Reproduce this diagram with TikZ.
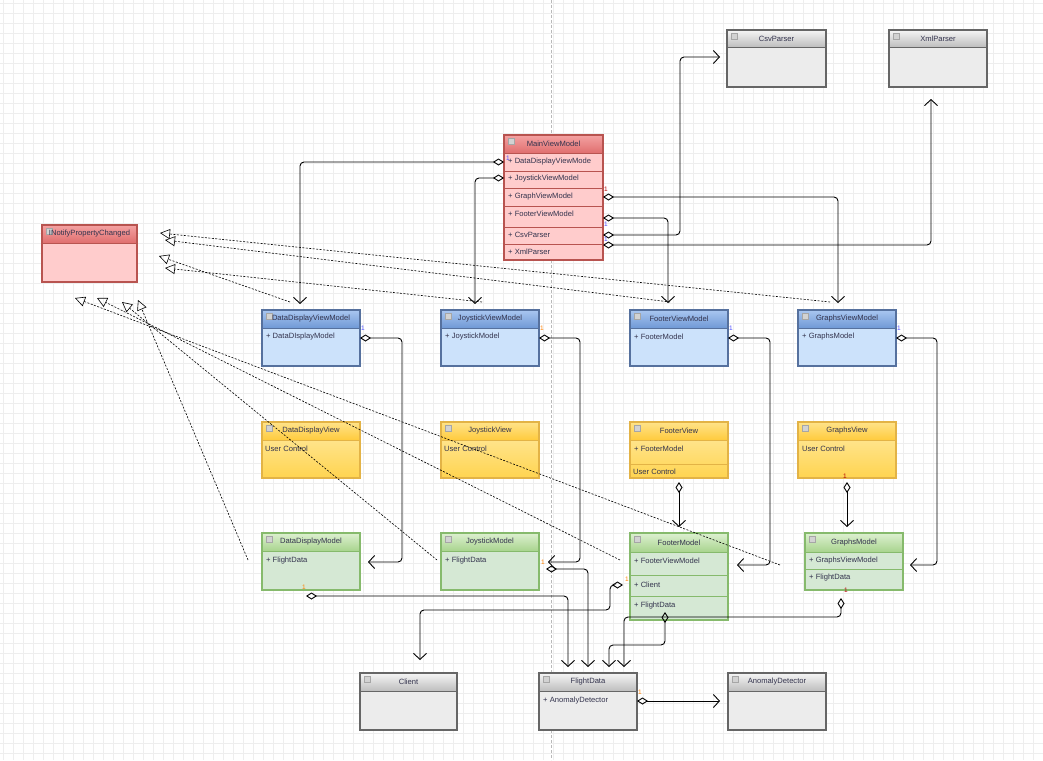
\documentclass[tikz,border=0pt]{standalone}
\usepackage{fontspec}
\setmainfont{Liberation Sans}
\usetikzlibrary{arrows.meta}
\definecolor{rH1}{HTML}{F4A3A3}\definecolor{rH2}{HTML}{E06E6E}\definecolor{rB}{HTML}{FFCCCC}\definecolor{rL}{HTML}{B85450}
\definecolor{bH1}{HTML}{A9C6F0}\definecolor{bH2}{HTML}{7099D6}\definecolor{bB}{HTML}{CCE2FB}\definecolor{bL}{HTML}{56719E}
\definecolor{yH1}{HTML}{FFE38A}\definecolor{yH2}{HTML}{FFCB3D}\definecolor{yB}{HTML}{FFEBA6}\definecolor{yB2}{HTML}{FFD450}\definecolor{yL}{HTML}{E3B346}
\definecolor{gH1}{HTML}{DDF0D0}\definecolor{gH2}{HTML}{A8D48E}\definecolor{gB}{HTML}{D5E8D4}\definecolor{gL}{HTML}{86BA6C}
\definecolor{kH1}{HTML}{F5F5F5}\definecolor{kH2}{HTML}{BEBEBE}\definecolor{kB}{HTML}{ECECEC}\definecolor{kL}{HTML}{666666}
\definecolor{txt}{HTML}{33334D}
\newcommand\cls[8]{%
  \ifx y#7\shade[top color=yB,bottom color=yB2] (#2,#3) rectangle (#4,#5);\else
  \fill[#7B] (#2,#3) rectangle (#4,#5);\fi
  \shade[top color=#7H1,bottom color=#7H2] (#2,#3) rectangle (#4,#6);
  \draw[#7L,line width=1.1pt] (#2,#3) rectangle (#4,#5);
  \draw[#7L,line width=0.8pt] (#2,#6) -- (#4,#6);
  \fill[gray!35,draw=gray!70,line width=0.3pt] ({#2+4},{#3+3}) rectangle ++(6,6);
  \node[ttl] (#1) at ({(#2+#4)/2},{(#3+#6)/2}) {#8};
  \path (#2,#3) coordinate (#1-nw) (#4,#5) coordinate (#1-se);}
\newcommand\rw[5]{\node[rowt] (#1) at (#2,#3) {#4};\ifx\relax#5\relax\else\draw[#5L,line width=0.8pt] (#2-4,#3+9) -- ++(98,0);\fi}
\begin{document}
\begin{tikzpicture}[x=1pt,y=-1pt,
  ttl/.style={font=\fontsize{7.6}{8}\selectfont,text=txt,inner sep=0},
  rowt/.style={font=\fontsize{7.6}{8}\selectfont,text=txt,inner sep=0,anchor=west},
  agg/.style={line width=0.9pt,rounded corners=4pt,{Diamond[open,length=11pt,width=7pt]}-{Straight Barb[length=6pt,width=13pt]}},
  real/.style={line width=0.6pt,dash pattern=on 2pt off 1.5pt,-{Triangle[open,length=10pt,width=10pt]}},
  m/.style={font=\fontsize{6.5}{6.5}\selectfont,inner sep=0}]
\useasboundingbox (0,0) rectangle (1043,760);
\fill[white] (0,0) rectangle (1043,760);
\foreach \i in {0,...,104} \draw[gray!13,line width=0.4pt] ({\i*10+3},0) -- ({\i*10+3},760);
\foreach \i in {0,...,76} \draw[gray!13,line width=0.4pt] (0,{\i*10+3}) -- (1043,{\i*10+3});
\draw[gray!55,dash pattern=on 3pt off 2pt,line width=0.4pt] (551,0) -- (551,760);
% classes
\cls{csv}{727}{30}{826}{87}{47}{k}{CsvParser}
\cls{xml}{889}{30}{987}{87}{47}{k}{XmlParser}
\cls{mvm}{504}{135}{603}{260}{153}{r}{MainViewModel}
\rw{mvm1}{508}{162}{+ DataDisplayViewMode}{r}
\rw{mvm2}{508}{179}{+ JoystickViewModel}{r}
\rw{mvm3}{508}{197}{+ GraphViewModel}{r}
\rw{mvm4}{508}{214}{+ FooterViewModel}{}
\draw[rL,line width=0.8pt] (504,227) -- (603,227);
\rw{mvm5}{508}{235}{+ CsvParser}{r}
\rw{mvm6}{508}{252}{+ XmlParser}{}
\cls{inpc}{42}{225}{137}{282}{243}{r}{INotifyPropertyChanged}
\cls{ddvm}{262}{310}{360}{366}{328}{b}{DataDisplayViewModel}
\rw{ddvm1}{266}{337}{+ DataDIsplayModel}{}
\cls{jvm}{441}{310}{539}{366}{328}{b}{JoystickViewModel}
\rw{jvm1}{445}{337}{+ JoystickModel}{}
\cls{fvm}{630}{310}{728}{366}{328}{b}{FooterViewModel}
\rw{fvm1}{634}{337}{+ FooterModel}{}
\cls{gvm}{798}{310}{896}{366}{328}{b}{GraphsViewModel}
\rw{gvm1}{802}{337}{+ GraphsModel}{}
\cls{ddv}{262}{422}{360}{478}{440}{y}{DataDisplayView}
\rw{ddv1}{265}{449}{User Control}{}
\cls{jv}{441}{422}{539}{478}{440}{y}{JoystickView}
\rw{jv1}{444}{449}{User Control}{}
\cls{fv}{630}{422}{728}{478}{440}{y}{FooterView}
\rw{fv1}{634}{449}{+ FooterModel}{}
\draw[yL,line width=0.8pt] (630,464) -- (728,464);
\rw{fv2}{633}{472}{User Control}{}
\cls{gv}{798}{422}{896}{478}{440}{y}{GraphsView}
\rw{gv1}{802}{449}{User Control}{}
\cls{ddm}{262}{533}{360}{590}{551}{g}{DataDisplayModel}
\rw{ddm1}{266}{561}{+ FlightData}{}
\cls{jm}{441}{533}{539}{590}{551}{g}{JoystickModel}
\rw{jm1}{445}{561}{+ FlightData}{}
\cls{fm}{630}{533}{728}{620}{552}{g}{FooterModel}
\rw{fm1}{634}{561}{+ FooterViewModel}{}
\draw[gL,line width=0.8pt] (630,575) -- (728,575);
\rw{fm2}{634}{585}{+ Client}{}
\draw[gL,line width=0.8pt] (630,596) -- (728,596);
\rw{fm3}{634}{606}{+ FlightData}{}
\cls{gm}{805}{533}{903}{590}{552}{g}{GraphsModel}
\rw{gm1}{809}{561}{+ GraphsViewModel}{}
\draw[gL,line width=0.8pt] (805,569) -- (903,569);
\rw{gm2}{809}{578}{+ FlightData}{}
\cls{cl}{360}{673}{457}{730}{691}{k}{Client}
\cls{fd}{539}{673}{637}{730}{691}{k}{FlightData}
\rw{fd1}{543}{701}{+ AnomalyDetector}{}
\cls{ad}{728}{673}{826}{730}{691}{k}{AnomalyDetector}
% coordinates
\path (504,162) coordinate (a1) (300,304) coordinate (a1e)
      (504,178) coordinate (a2) (475,304) coordinate (a2e)
      (603,197) coordinate (a3) (838,303) coordinate (a3e)
      (603,218) coordinate (a4) (668,303) coordinate (a4e)
      (603,235) coordinate (a5) (720,57) coordinate (a5e)
      (603,245) coordinate (a6) (931,99) coordinate (a6e)
      (360,338) coordinate (b1) (368,562) coordinate (b1e)
      (539,338) coordinate (b2) (548,562) coordinate (b2e)
      (728,338) coordinate (b3) (737,565) coordinate (b3e)
      (896,338) coordinate (b4) (910,565) coordinate (b4e)
      (679,482) coordinate (c1) (679,527) coordinate (c1e)
      (847,482) coordinate (c2) (847,527) coordinate (c2e)
      (306,596) coordinate (d1) (568,667) coordinate (d1e)
      (546,569) coordinate (d2) (588,667) coordinate (d2e)
      (623,585) coordinate (d3) (420,660) coordinate (d3e)
      (665,612) coordinate (d4) (609,667) coordinate (d4e)
      (841,598) coordinate (d5) (624,667) coordinate (d5e)
      (637,701) coordinate (e1) (720,701) coordinate (e1e);
\draw[agg] (a1) -- (300,162) -- (a1e);
\draw[agg] (a2) -- (475,178) -- (a2e);
\draw[agg] (a3) -- (838,197) -- (a3e);
\draw[agg] (a4) -- (668,218) -- (a4e);
\draw[agg] (a5) -- (680,235) -- (680,57) -- (a5e);
\draw[agg] (a6) -- (931,245) -- (a6e);
\draw[agg] (b1) -- (402,338) -- (402,562) -- (b1e);
\draw[agg] (b2) -- (580,338) -- (580,562) -- (b2e);
\draw[agg] (b3) -- (770,338) -- (770,565) -- (b3e);
\draw[agg] (b4) -- (937,338) -- (937,565) -- (b4e);
\draw[agg] (c1) -- (c1e);
\draw[agg] (c2) -- (c2e);
\draw[agg] (d1) -- (568,596) -- (d1e);
\draw[agg] (d2) -- (588,569) -- (d2e);
\draw[agg] (d3) -- (610,585) -- (610,610) -- (420,610) -- (d3e);
\draw[agg] (d4) -- (665,645) -- (609,645) -- (d4e);
\draw[agg] (d5) -- (841,617) -- (624,617) -- (d5e);
\draw[agg] (e1) -- (e1e);
% realizations
\path (830,302) coordinate (r1) (160,233) coordinate (r1e)
      (670,302) coordinate (r2) (165,240) coordinate (r2e)
      (290,302) coordinate (r3) (159,256) coordinate (r3e)
      (482,302) coordinate (r4) (165,268) coordinate (r4e)
      (248,560) coordinate (s1) (138,300) coordinate (s1e)
      (437,560) coordinate (s2) (122,302) coordinate (s2e)
      (620,560) coordinate (s3) (97,298) coordinate (s3e)
      (780,565) coordinate (s4) (75,298) coordinate (s4e);
\foreach \p in {r1,r2,r3,r4,s1,s2,s3,s4} \draw[real] (\p) -- (\p e);
% multiplicities
\node[m,text=blue!70] at (508,158) {1};
\node[m,text=red!70!black] at (606,189) {1};
\node[m,text=blue!70] at (606,224) {1};
\node[m,text=blue!70] at (606,239) {1};
\node[m,text=blue!70] at (363,328) {1};
\node[m,text=orange] at (542,328) {1};
\node[m,text=blue!70] at (731,328) {1};
\node[m,text=blue!70] at (899,328) {1};
\node[m,text=red!70!black] at (845,476) {1};
\node[m,text=orange] at (304,587) {1};
\node[m,text=orange] at (543,562) {1};
\node[m,text=orange] at (627,579) {1};
\node[m,text=red!70!black] at (846,590) {1};
\node[m,text=orange] at (640,692) {1};
\end{tikzpicture}
\end{document}
